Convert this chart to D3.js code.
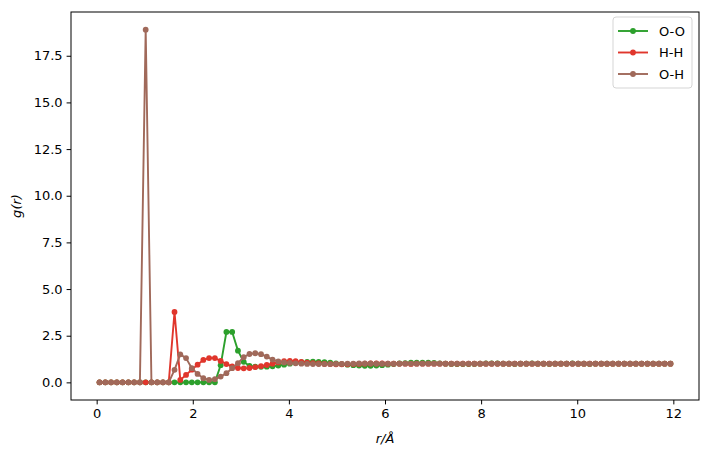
<!DOCTYPE html>
<html>
<head>
<meta charset="utf-8">
<script src="https://cdn.jsdelivr.net/npm/d3@7"></script>
<style>
  body { margin: 0; background: #fff; }
  text { font-family: "DejaVu Sans", sans-serif; }
</style>
</head>
<body>
<svg class="chart"></svg>
<script>
// r grid (Å), bin centres
const rValues = [
  0.06, 0.18, 0.30, 0.42, 0.54, 0.66, 0.78, 0.90, 1.02, 1.14,
  1.26, 1.38, 1.50, 1.62, 1.74, 1.86, 1.98, 2.10, 2.22, 2.34,
  2.46, 2.58, 2.70, 2.82, 2.94, 3.06, 3.18, 3.30, 3.42, 3.54,
  3.66, 3.78, 3.90, 4.02, 4.14, 4.26, 4.38, 4.50, 4.62, 4.74,
  4.86, 4.98, 5.10, 5.22, 5.34, 5.46, 5.58, 5.70, 5.82, 5.94,
  6.06, 6.18, 6.30, 6.42, 6.54, 6.66, 6.78, 6.90, 7.02, 7.14,
  7.26, 7.38, 7.50, 7.62, 7.74, 7.86, 7.98, 8.10, 8.22, 8.34,
  8.46, 8.58, 8.70, 8.82, 8.94, 9.06, 9.18, 9.30, 9.42, 9.54,
  9.66, 9.78, 9.90, 10.02, 10.14, 10.26, 10.38, 10.50, 10.62, 10.74,
  10.86, 10.98, 11.10, 11.22, 11.34, 11.46, 11.58, 11.70, 11.82, 11.94
];

const gOO = [
  0, 0, 0, 0, 0, 0, 0, 0, 0, 0,
  0, 0, 0, 0, 0, 0, 0, 0, 0, 0,
  0, 0.92, 2.70, 2.70, 1.70, 1.10, 0.88, 0.84, 0.83, 0.84,
  0.86, 0.90, 0.95, 1.00, 1.05, 1.08, 1.10, 1.11, 1.10, 1.08,
  1.05, 1.02, 0.98, 0.95, 0.92, 0.90, 0.89, 0.89, 0.90, 0.92,
  0.95, 0.98, 1.01, 1.03, 1.05, 1.06, 1.06, 1.05, 1.04, 1.02,
  1.00, 0.99, 0.98, 0.98, 0.98, 0.99, 1.00, 1.01, 1.01, 1.01,
  1.00, 1.00, 0.99, 1.00, 1.00, 1.01, 1.00, 1.00, 0.99, 1.00,
  1.00, 1.00, 1.01, 1.00, 1.00, 0.99, 1.00, 1.00, 1.00, 1.00,
  1.00, 1.00, 1.00, 1.00, 1.00, 1.00, 1.00, 1.00, 1.00, 1.00
];

const gHH = [
  0, 0, 0, 0, 0, 0, 0, 0, 0, 0,
  0, 0, 0, 3.77, 0.13, 0.40, 0.68, 0.95, 1.20, 1.30,
  1.30, 1.15, 0.98, 0.85, 0.77, 0.75, 0.77, 0.82, 0.87, 0.93,
  1.00, 1.07, 1.13, 1.15, 1.13, 1.09, 1.06, 1.03, 1.01, 0.99,
  0.98, 0.97, 0.97, 0.97, 0.98, 0.99, 1.00, 1.01, 1.01, 1.01,
  1.00, 1.00, 1.00, 1.00, 0.99, 1.00, 1.00, 1.00, 1.00, 1.00,
  1.00, 1.00, 1.00, 1.00, 1.00, 1.00, 1.00, 1.00, 1.00, 1.00,
  1.00, 1.00, 1.00, 1.00, 1.00, 1.00, 1.00, 1.00, 1.00, 1.00,
  1.00, 1.00, 1.00, 1.00, 1.00, 1.00, 1.00, 1.00, 1.00, 1.00,
  1.00, 1.00, 1.00, 1.00, 1.00, 1.00, 1.00, 1.00, 1.00, 1.00
];

const gOH = [
  0, 0, 0, 0, 0, 0, 0, 0, 18.9, 0,
  0, 0, 0, 0.67, 1.50, 1.30, 0.76, 0.45, 0.22, 0.13,
  0.17, 0.31, 0.49, 0.76, 1.03, 1.35, 1.52, 1.56, 1.51, 1.38,
  1.22, 1.12, 1.07, 1.04, 1.02, 1.00, 0.99, 0.98, 0.98, 0.98,
  0.98, 0.99, 0.99, 1.00, 1.00, 1.01, 1.01, 1.01, 1.00, 1.00,
  1.00, 1.00, 1.00, 1.00, 1.00, 1.00, 1.00, 1.00, 1.00, 1.00,
  1.00, 1.00, 1.00, 1.00, 1.00, 1.00, 1.00, 1.00, 1.00, 1.00,
  1.00, 1.00, 1.00, 1.00, 1.00, 1.00, 1.00, 1.00, 1.00, 1.00,
  1.00, 1.00, 1.00, 1.00, 1.00, 1.00, 1.00, 1.00, 1.00, 1.00,
  1.00, 1.00, 1.00, 1.00, 1.00, 1.00, 1.00, 1.00, 1.00, 1.00
];

const seriesNames = ['O-O', 'H-H', 'O-H'];
const seriesColors = ['#2ca02c', '#e0362c', '#a0695a'];
const xTicks = [0, 2, 4, 6, 8, 10, 12];
const yTicks = [0, 2.5, 5, 7.5, 10, 12.5, 15, 17.5];

const svgWidth = 720;
const svgHeight = 450;
const margin = { top: 12, right: 21, bottom: 50, left: 71 };
const chartWidth = svgWidth - margin.left - margin.right;
const chartHeight = svgHeight - margin.top - margin.bottom;
const fontSize = '13px';

const svg = d3.select('.chart')
  .attr('width', svgWidth)
  .attr('height', svgHeight);

const chart = svg.append('g')
  .attr('transform', 'translate(' + margin.left + ',' + margin.top + ')');

// matplotlib-style 5% margins
const xMin = d3.min(rValues), xMax = d3.max(rValues);
const xPad = (xMax - xMin) * 0.05;
const yMax = d3.max([gOO, gHH, gOH].flat());
const yPad = yMax * 0.05;

const xScale = d3.scaleLinear()
  .domain([xMin - xPad, xMax + xPad])
  .range([0, chartWidth]);

const yScale = d3.scaleLinear()
  .domain([-yPad, yMax + yPad])
  .range([chartHeight, 0]);

// axes
const xAxisGroup = chart.append('g')
  .attr('transform', 'translate(0,' + chartHeight + ')')
  .call(d3.axisBottom(xScale).tickValues(xTicks).tickFormat(d3.format('d')).tickSizeOuter(0).tickSize(4.4).tickPadding(4));

const yAxisGroup = chart.append('g')
  .call(d3.axisLeft(yScale).tickValues(yTicks).tickFormat(d3.format('.1f')).tickSizeOuter(0).tickSize(4.4).tickPadding(4));

[xAxisGroup, yAxisGroup].forEach(g => {
  g.select('.domain').remove();
  g.selectAll('line').attr('stroke', '#000').attr('stroke-width', 1);
  g.selectAll('text').attr('fill', '#000').attr('font-size', fontSize)
    .style('font-family', '"DejaVu Sans", sans-serif');
});

// frame
chart.append('rect')
  .attr('x', 0).attr('y', 0)
  .attr('width', chartWidth).attr('height', chartHeight)
  .attr('fill', 'none').attr('stroke', '#000').attr('stroke-width', 1);

// series
const allSeries = [gOO, gHH, gOH];
const line = d3.line()
  .x((d, i) => xScale(rValues[i]))
  .y(d => yScale(d));

allSeries.forEach((vals, s) => {
  const grp = chart.append('g');
  grp.append('path')
    .datum(vals)
    .attr('fill', 'none')
    .attr('stroke', seriesColors[s])
    .attr('stroke-width', 1.9)
    .attr('stroke-linejoin', 'round')
    .attr('d', line);
  grp.selectAll('circle')
    .data(vals)
    .enter()
    .append('circle')
    .attr('cx', (d, i) => xScale(rValues[i]))
    .attr('cy', d => yScale(d))
    .attr('r', 2.9)
    .attr('fill', seriesColors[s]);
});

// axis labels
svg.append('text')
  .attr('x', margin.left + chartWidth / 2)
  .attr('y', 443)
  .attr('text-anchor', 'middle')
  .attr('font-size', fontSize)
  .attr('font-style', 'italic')
  .text('r/Å');

svg.append('text')
  .attr('transform', 'translate(21,' + (margin.top + chartHeight / 2) + ') rotate(-90)')
  .attr('text-anchor', 'middle')
  .attr('font-size', fontSize)
  .attr('font-style', 'italic')
  .text('g(r)');

// legend
const legend = svg.append('g')
  .attr('transform', 'translate(613,17)');

legend.append('rect')
  .attr('width', 79).attr('height', 71)
  .attr('rx', 3)
  .attr('fill', '#fff')
  .attr('fill-opacity', 0.8)
  .attr('stroke', '#d5d5d5')
  .attr('stroke-width', 1);

seriesNames.forEach((name, i) => {
  const y = 14 + i * 21.5;
  legend.append('line')
    .attr('x1', 5).attr('x2', 35)
    .attr('y1', y).attr('y2', y)
    .attr('stroke', seriesColors[i]).attr('stroke-width', 1.9);
  legend.append('circle')
    .attr('cx', 20).attr('cy', y).attr('r', 2.9)
    .attr('fill', seriesColors[i]);
  legend.append('text')
    .attr('x', 46).attr('y', y + 4.7)
    .attr('font-size', fontSize)
    .text(name);
});
</script>
</body>
</html>
